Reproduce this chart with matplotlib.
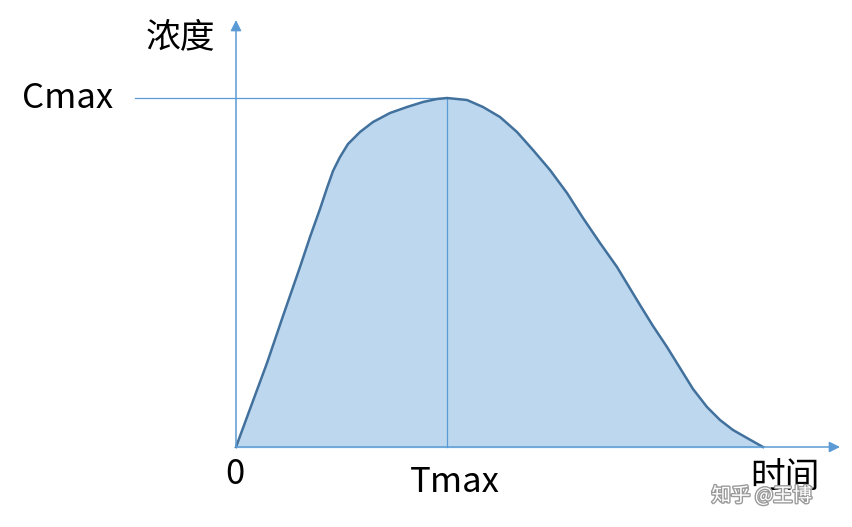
import matplotlib
matplotlib.use('Agg')
import matplotlib.pyplot as plt
import matplotlib.patheffects as pe

plt.rcParams['font.family'] = ['Noto Sans CJK SC', 'DejaVu Sans']

# 血药浓度-时间曲线（读图估计的值）
t = [0, 14, 31, 47, 64, 74, 84, 91, 97, 104, 112, 124, 137, 154, 171, 187, 201, 211,
     231, 247, 264, 281, 297, 314, 331, 347, 364, 381, 404, 417, 431, 444, 457, 471,
     484, 497, 511, 527]
c = [0, 38, 84, 131, 180, 210, 238, 259, 276, 290, 303, 315, 325, 334, 340, 345, 348, 349,
     347, 340, 330, 315, 297, 277, 254, 229, 204, 180, 142, 121, 100, 79, 58, 40,
     27, 17, 9, 0]
t_max = 211
c_max = 349

fig = plt.figure(figsize=(8.53, 5.27), dpi=100)
ax = fig.add_axes([0, 0, 1, 1])
ax.set_xlim(-236, 617)
ax.set_ylim(-80, 447)
ax.axis('off')

line_c = '#5B9BD5'
ax.fill_between(t, c, 0, color='#BDD7EE', zorder=1)
ax.plot(t, c, color='#41719C', lw=1.8, zorder=3, solid_joinstyle='round')

# Cmax / Tmax 辅助线
ax.plot([-101, t_max], [c_max, c_max], color=line_c, lw=0.9, zorder=2)
ax.plot([t_max, t_max], [0, c_max], color=line_c, lw=0.9, zorder=2)

# 坐标轴箭头
arrow = dict(arrowstyle='-|>', color=line_c, lw=1.1, mutation_scale=16, shrinkA=0, shrinkB=0)
ax.annotate('', xy=(0, 427), xytext=(0, 0), arrowprops=arrow, zorder=4)
ax.annotate('', xy=(604, 0), xytext=(0, 0), arrowprops=arrow, zorder=4)

fs = 25
ax.text(-56, 409, '浓度', fontsize=fs, ha='center', va='center')
ax.text(-168, c_max, 'Cmax', fontsize=fs, ha='center', va='center')
ax.text(-1, -28, '0', fontsize=fs, ha='center', va='center')
ax.text(219, -36, 'Tmax', fontsize=fs, ha='center', va='center')
ax.text(549, -30, '时间', fontsize=fs, ha='center', va='center')

# 水印
ax.text(526, -49, '知乎 @王博', fontsize=14, ha='center', va='center', color='white',
        path_effects=[pe.withStroke(linewidth=2, foreground='#9a9a9a')], zorder=5)

fig.savefig('out.png', dpi=100)
